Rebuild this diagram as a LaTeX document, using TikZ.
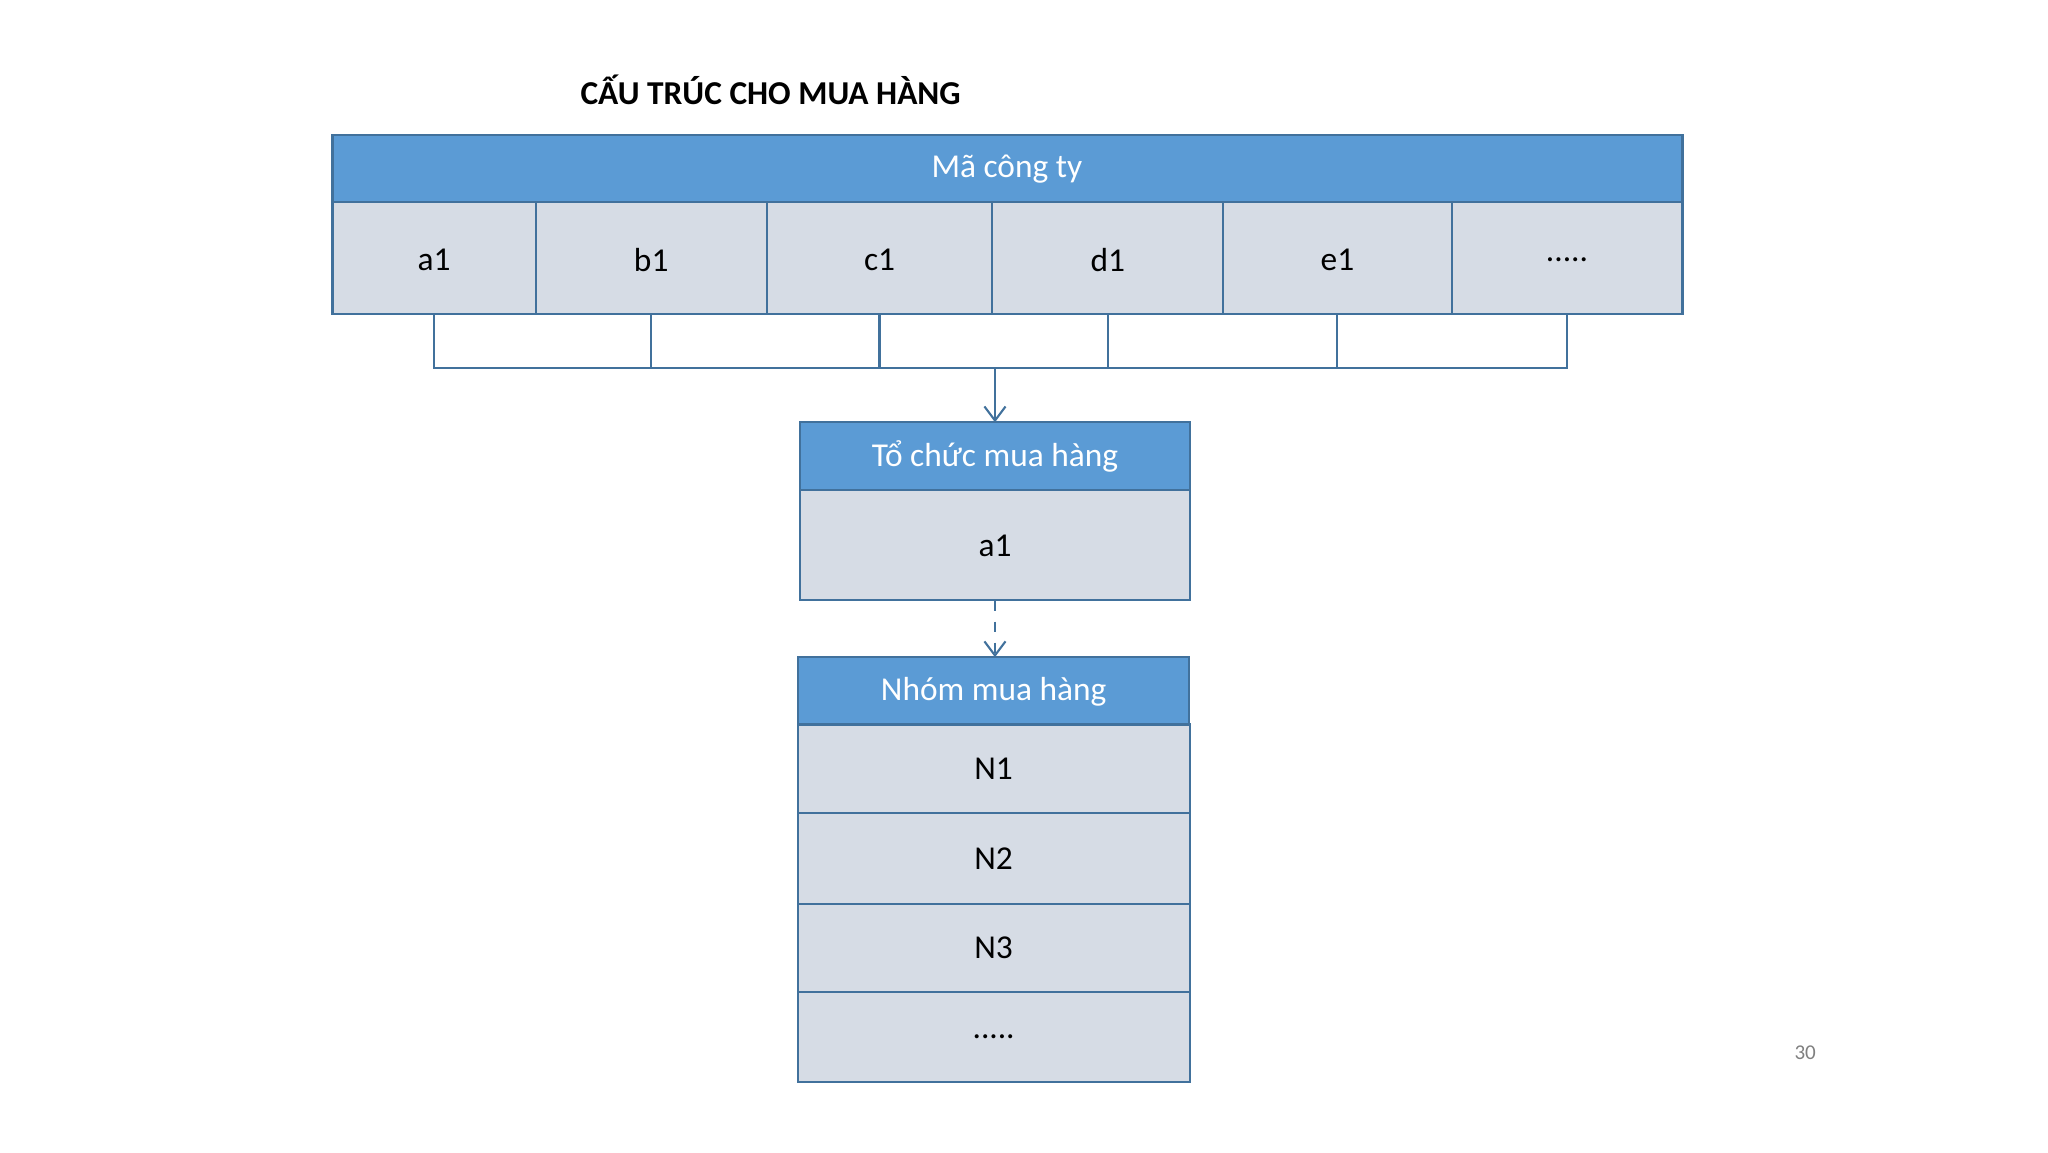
\documentclass[tikz,border=0pt]{standalone}
\usepackage{fontspec}
\setmainfont{Carlito}
\usetikzlibrary{arrows.meta}
\definecolor{hdr}{HTML}{5B9BD5}
\definecolor{cellc}{HTML}{D6DCE5}
\definecolor{bord}{HTML}{41719C}
\newcommand{\fivedots}{.....}
\tikzset{
  hbox/.style={draw=bord, fill=hdr, text=white, font=\fontsize{9.5}{11}\selectfont, line width=0.6pt},
  cbox/.style={draw=bord, fill=cellc, text=black, font=\fontsize{9.5}{11}\selectfont, line width=0.6pt},
  conn/.style={draw=bord, line width=0.6pt},
  arr/.style={conn, -{Straight Barb[length=4pt,width=6pt]}}
}
\begin{document}
\begin{tikzpicture}[x=0.0132cm,y=-0.0132cm]
\useasboundingbox (0,0) rectangle (1552,873);
\node[font=\bfseries\fontsize{9.5}{11}\selectfont] (title) at (584,68) {CẤU TRÚC CHO MUA HÀNG};
% top
\draw[hbox] (252,102) rectangle (1275,153);
\node[text=white,font=\fontsize{9.5}{11}\selectfont] (ma) at (763,128) {Mã công ty};
\foreach \a/\b/\t/\n in {252/406/a1/ca,406/581/b1/cb,581/752/c1/cc,752/927/d1/cd,927/1100/e1/ce,1100/1275/\fivedots/cf}{
  \draw[cbox] (\a,153) rectangle (\b,238);
  \node[font=\fontsize{9.5}{11}\selectfont] (\n) at ({(\a+\b)/2},197) {\t};
  \coordinate (\n b) at ({(\a+\b)/2},238);
}
\coordinate (bar) at (754,279);
\foreach \n in {ca,cb,cc,cd,ce,cf}{ \draw[conn] (\n b) |- (bar); }
% box2
\draw[hbox] (606,320) rectangle (902,371);
\node[text=white,font=\fontsize{9.5}{11}\selectfont] (to) at (754,346) {Tổ chức mua hàng};
\draw[cbox] (606,371) rectangle (902,455);
\node[font=\fontsize{9.5}{11}\selectfont] (ta) at (754,414) {a1};
\coordinate (t2) at (754,320);
\draw[arr] (bar) -- (t2);
\coordinate (b2) at (754,455);
\coordinate (t3) at (754,498);
\draw[arr,dashed] (b2) -- (t3);
% box3
\draw[hbox] (605,498) rectangle (901,549);
\node[text=white,font=\fontsize{9.5}{11}\selectfont] (nh) at (753,524) {Nhóm mua hàng};
\foreach \a/\b/\t/\n in {549/616/N1/n1,616/685/N2/n2,685/752/N3/n3,752/820/\fivedots/n4}{
  \draw[cbox] (605,\a) rectangle (902,\b);
  \node[font=\fontsize{9.5}{11}\selectfont] (\n) at (753,{(\a+\b)/2}) {\t};
}
\node[text=gray,font=\fontsize{6}{7}\selectfont] (pg) at (1368,798) {30};
\end{tikzpicture}
\end{document}
